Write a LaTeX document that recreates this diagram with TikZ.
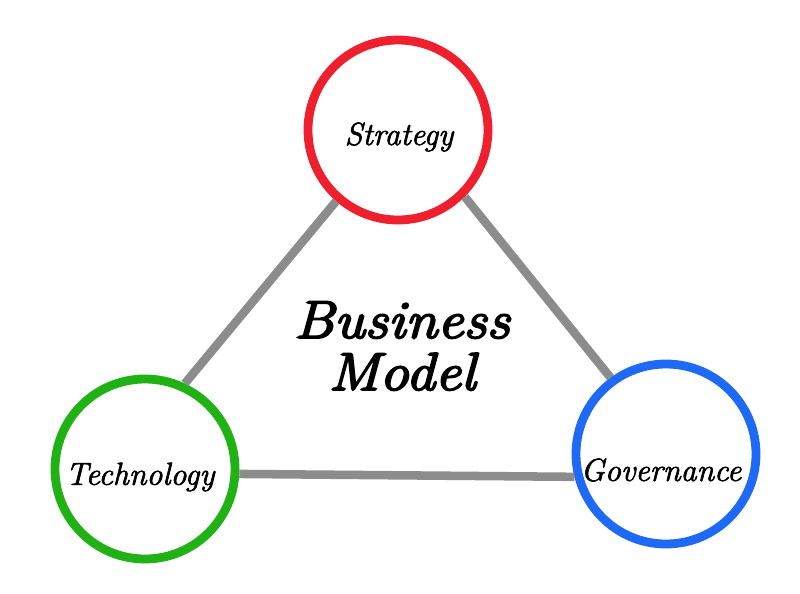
\documentclass[tikz,border=0pt]{standalone}
\usepackage{fontspec}
\setmainfont{Latin Modern Roman}
\newfontfamily\handsmall{Latin Modern Roman}[ItalicFeatures={FakeBold=2}]
\newfontfamily\handbig{Latin Modern Roman}[ItalicFeatures={FakeBold=3.5,FakeStretch=1.09}]
\tikzset{
  x=0.75pt,y=-0.75pt,
  hub/.style={circle,draw,line width=6.6pt,minimum size=135pt,inner sep=0pt,fill=white},
  link/.style={draw=linkgray,line width=6.4pt},
  small/.style={font=\handsmall\itshape\fontsize{24}{26}\selectfont,text=black},
  big/.style={font=\handbig\itshape\fontsize{40}{36}\selectfont,text=black,align=center},
}
\definecolor{linkgray}{RGB}{140,140,140}
\definecolor{hubred}{RGB}{238,32,45}
\definecolor{hubgreen}{RGB}{32,178,20}
\definecolor{hubblue}{RGB}{30,105,245}
\begin{document}
\begin{tikzpicture}
\useasboundingbox (0,0) rectangle (800,593);
\fill[white] (0,0) rectangle (800,593);
\node[hub,draw=hubred] (red) at (398,130) {};
\node[hub,draw=hubgreen] (green) at (145,469) {};
\node[hub,draw=hubblue] (blue) at (666,454) {};
\draw[link] (red.229) -- (green.65);
\draw[link] (red.-45) -- (blue.126);
\draw[link] (green.-3) -- (blue.194);
\node[small] (s) at (399,137) {Strategy};
\node[small] (t) at (140,477) {Technology};
\node[small] (g) at (661,470) {Governance};
\node[big] (m) at (402,346) {Business\\[3pt]Model};
\end{tikzpicture}
\end{document}
